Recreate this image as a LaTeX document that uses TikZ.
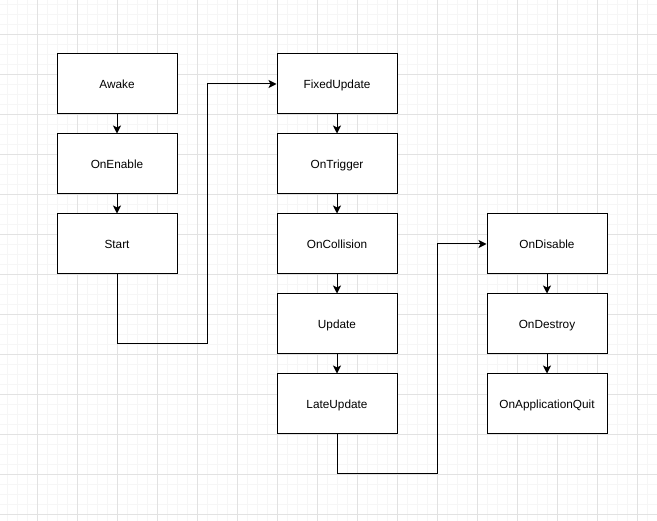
\documentclass[tikz,border=0pt]{standalone}
\usepackage{fontspec}
\setmainfont{Liberation Sans}
\usetikzlibrary{arrows.meta}
\definecolor{minorgrid}{HTML}{F6F6F6}
\definecolor{majorgrid}{HTML}{E2E2E2}
\tikzset{
  stepbox/.style={draw=black, line width=1pt, fill=white, minimum width=120pt, minimum height=60pt, inner sep=0pt, text height=9pt, text depth=0.6pt, font=\fontsize{11.8}{13}\selectfont},
  conn/.style={draw=black, line width=1pt, -{Stealth[length=8pt,width=8pt,inset=2pt]}}
}
\begin{document}
\begin{tikzpicture}[x=1pt,y=-1pt]
\useasboundingbox (0,0) rectangle (657,521);
\fill[white] (0,0) rectangle (657,521);
% minor grid
\foreach \x in {7,17,...,657} \draw[minorgrid, line width=0.8pt] (\x,0) -- (\x,521);
\foreach \y in {4,14,...,521} \draw[minorgrid, line width=0.8pt] (0,\y) -- (657,\y);
% major grid
\foreach \x in {37,77,...,657} \draw[majorgrid, line width=0.8pt] (\x,0) -- (\x,521);
\foreach \y in {34,74,...,521} \draw[majorgrid, line width=0.8pt] (0,\y) -- (657,\y);

% column 1
\node[stepbox] (awake) at (117,84) {Awake};
\node[stepbox] (onenable) at (117,164) {OnEnable};
\node[stepbox] (start) at (117,244) {Start};
% column 2
\node[stepbox] (fixed) at (337,84) {FixedUpdate};
\node[stepbox] (trigger) at (337,164) {OnTrigger};
\node[stepbox] (collision) at (337,244) {OnCollision};
\node[stepbox] (update) at (337,324) {Update};
\node[stepbox] (late) at (337,404) {LateUpdate};
% column 3
\node[stepbox] (disable) at (547,244) {OnDisable};
\node[stepbox] (destroy) at (547,324) {OnDestroy};
\node[stepbox] (quit) at (547,404) {OnApplicationQuit};

\coordinate (c1) at (207,344);
\coordinate (c2) at (437,474);

\draw[conn] (awake) -- (onenable);
\draw[conn] (onenable) -- (start);
\draw[conn] (start.south) |- (c1) |- (fixed.west);
\draw[conn] (fixed) -- (trigger);
\draw[conn] (trigger) -- (collision);
\draw[conn] (collision) -- (update);
\draw[conn] (update) -- (late);
\draw[conn] (late.south) |- (c2) |- (disable.west);
\draw[conn] (disable) -- (destroy);
\draw[conn] (destroy) -- (quit);
\end{tikzpicture}
\end{document}
